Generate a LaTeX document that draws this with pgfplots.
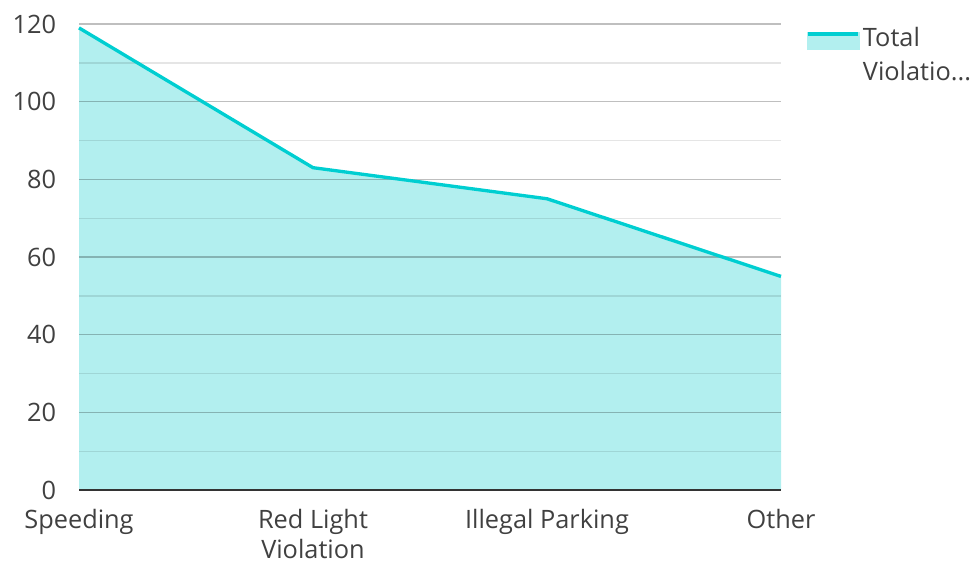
\documentclass[border=0pt]{standalone}
\usepackage{fontspec}
\setmainfont{Open Sans}
\usepackage{pgfplots}
\pgfplotsset{compat=1.18}

\definecolor{linec}{RGB}{0,206,209}
\definecolor{areac}{RGB}{178,239,239}
\definecolor{axisc}{RGB}{51,51,51}
\definecolor{textc}{RGB}{64,64,64}

\begin{document}
\begin{tikzpicture}
\begin{axis}[
    set layers,
    axis on top,
    scale only axis,
    width=526.5pt, height=349.5pt,
    xmin=0, xmax=3, ymin=0, ymax=120,
    xtick={0,1,2,3},
    xticklabels={Speeding, Red Light\\Violation, Illegal Parking, Other},
    ytick={0,20,...,120},
    minor ytick={10,30,...,110},
    ymajorgrids, yminorgrids,
    major grid style={black, opacity=0.25, line width=1pt},
    minor grid style={black, opacity=0.1, line width=1pt},
    separate axis lines,
    axis x line*=bottom,
    axis y line*=left,
    x axis line style={axisc, line width=1.5pt, -},
    y axis line style={draw=none},
    major tick length=0pt, minor tick length=0pt,
    tick style={draw=none},
    /pgf/number format/assume math mode=true,
    xticklabel style={align=center, text=textc, anchor=north, inner sep=0pt,
        font=\fontsize{19}{23}\selectfont, yshift=-14pt},
    yticklabel style={text=textc, anchor=east, inner sep=0pt,
        font=\fontsize{19}{24}\selectfont, xshift=-17pt},
    legend style={at={(1,1)}, anchor=north west, xshift=18.75pt,
        draw=none, fill=none, inner sep=0pt,
        font=\fontsize{19}{25.5}\selectfont, text=textc,
        cells={anchor=west, align=left}},
    legend image code/.code={
        \fill[areac] (0pt,4.5pt) rectangle (37.5pt,15.5pt);
        \draw[linec, line width=3pt] (0pt,15.5pt) -- (37.5pt,15.5pt);
    },
]
\addplot[draw=none, fill=areac, forget plot] coordinates {
    (0,119) (1,83) (2,75) (3,55)
} \closedcycle;
\addplot[linec, line width=2.5pt, on layer=axis foreground] coordinates {
    (0,119) (1,83) (2,75) (3,55)
};
\addlegendentry{Total\\Violatio...}
\end{axis}
\pgfresetboundingbox
\path[use as bounding box] (-59.25pt,-54pt) rectangle (670.5pt,367.5pt);
\end{tikzpicture}
\end{document}
